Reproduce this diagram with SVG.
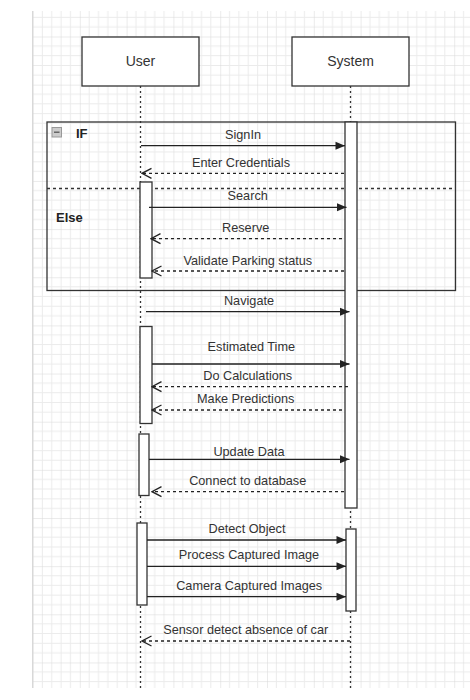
<svg xmlns="http://www.w3.org/2000/svg" width="470" height="700" viewBox="0 0 470 700">
<style>
.box{fill:#fff;stroke:#333;stroke-width:1.3}
.bar{fill:#fff;stroke:#333;stroke-width:1.3}
.life{stroke:#333;stroke-width:1.3;stroke-dasharray:2 3;fill:none}
.msg{stroke:#222;stroke-width:1.3;fill:none}
.ret{stroke:#222;stroke-width:1.3;fill:none;stroke-dasharray:3 3}
.lbl{font-family:"Liberation Sans",Arial,sans-serif;font-size:12.7px;fill:#333;text-anchor:middle}
.name{font-family:"Liberation Sans",Arial,sans-serif;font-size:14px;fill:#333;text-anchor:middle}
.kw{font-family:"Liberation Sans",Arial,sans-serif;font-size:13px;font-weight:bold;fill:#222}
</style>
<defs>
<pattern id="grid" patternUnits="userSpaceOnUse" x="33" y="36.5" width="46.8" height="48.15">
<path d="M9.36 0V48.15M18.72 0V48.15M28.08 0V48.15M37.44 0V48.15M0 9.63H46.8M0 19.26H46.8M0 28.89H46.8M0 38.52H46.8" stroke="#ebebeb" stroke-width="1" fill="none"/>
<path d="M0 0V48.15M0 0H46.8" stroke="#d8d8d8" stroke-width="1" fill="none"/>
</pattern>
<marker id="fill" markerWidth="12" markerHeight="12" refX="10" refY="6" orient="auto" markerUnits="userSpaceOnUse">
<path d="M0.5 2L10 6L0.5 10Z" fill="#222"/>
</marker>
<marker id="open" markerWidth="12" markerHeight="12" refX="10.5" refY="6" orient="auto" markerUnits="userSpaceOnUse">
<path d="M1 1L10.5 6L1 11" fill="none" stroke="#222" stroke-width="1.3"/>
</marker>
</defs>
<rect x="0" y="0" width="470" height="700" fill="#fff"/>
<rect x="32.5" y="11" width="437.5" height="677" fill="url(#grid)"/>
<line x1="32.5" y1="11" x2="32.5" y2="688" stroke="#d8d8d8"/>

<g id="user">
<rect class="box" x="82" y="37" width="117" height="49"/>
<text class="name" x="140.5" y="66">User</text>
<line class="life" x1="140.5" y1="86" x2="140.5" y2="688"/>
</g>
<g id="system">
<rect class="box" x="292" y="37" width="117" height="49"/>
<text class="name" x="350.5" y="66">System</text>
<line class="life" x1="350.5" y1="86" x2="350.5" y2="688"/>
</g>

<g id="frame-if">
<rect x="47" y="122" width="408.5" height="168.5" fill="none" stroke="#333" stroke-width="1.3"/>
<line x1="47" y1="188.5" x2="455.5" y2="188.5" stroke="#333" stroke-width="1.3" stroke-dasharray="3 3"/>
<rect x="52" y="127.5" width="9.5" height="9.5" fill="#ccc" stroke="#999" stroke-width="1"/>
<line x1="54" y1="132.2" x2="59.5" y2="132.2" stroke="#555" stroke-width="1.3"/>
<text class="kw" x="76" y="138">IF</text>
<text class="kw" x="56" y="222">Else</text>
</g>

<g id="activations">
<rect class="bar" x="345" y="122" width="12" height="386"/>
<rect class="bar" x="140" y="182" width="12" height="96"/>
<rect class="bar" x="140" y="326.5" width="12" height="97"/>
<rect class="bar" x="139" y="434" width="10" height="61.5"/>
<rect class="bar" x="137" y="523" width="10" height="82"/>
<rect class="bar" x="346" y="529" width="10" height="82"/>
</g>

<g id="connectors">
<line class="msg" x1="141" y1="145.7" x2="345" y2="145.7" marker-end="url(#fill)"/>
<line class="ret" x1="344" y1="173.3" x2="142" y2="173.3" marker-end="url(#open)"/>
<line class="msg" x1="149" y1="207.3" x2="346.5" y2="207.3" marker-end="url(#fill)"/>
<line class="ret" x1="342" y1="238.7" x2="151" y2="238.7" marker-end="url(#open)"/>
<line class="ret" x1="344" y1="271" x2="152" y2="271" marker-end="url(#open)"/>
<line class="msg" x1="146" y1="311.7" x2="349.5" y2="311.7" marker-end="url(#fill)"/>
<line class="msg" x1="152" y1="364" x2="349.5" y2="364" marker-end="url(#fill)"/>
<line class="ret" x1="348" y1="386.7" x2="152" y2="386.7" marker-end="url(#open)"/>
<line class="ret" x1="342" y1="410" x2="152" y2="410" marker-end="url(#open)"/>
<line class="msg" x1="149" y1="459.3" x2="349.5" y2="459.3" marker-end="url(#fill)"/>
<line class="ret" x1="344" y1="491.7" x2="152" y2="491.7" marker-end="url(#open)"/>
<line class="msg" x1="147" y1="540" x2="346" y2="540" marker-end="url(#fill)"/>
<line class="msg" x1="147" y1="566.3" x2="346" y2="566.3" marker-end="url(#fill)"/>
<line class="msg" x1="147" y1="596.7" x2="346" y2="596.7" marker-end="url(#fill)"/>
<line class="ret" x1="350" y1="641" x2="142" y2="641" marker-end="url(#open)"/>
</g>

<g id="labels">
<text class="lbl" x="243" y="139">SignIn</text>
<text class="lbl" x="241" y="166.5">Enter Credentials</text>
<text class="lbl" x="247.7" y="200">Search</text>
<text class="lbl" x="245.7" y="231.5">Reserve</text>
<text class="lbl" x="247.8" y="264.5">Validate Parking status</text>
<text class="lbl" x="249" y="305">Navigate</text>
<text class="lbl" x="251.3" y="351">Estimated Time</text>
<text class="lbl" x="247.8" y="380">Do Calculations</text>
<text class="lbl" x="245.7" y="402.5">Make Predictions</text>
<text class="lbl" x="249" y="455.5">Update Data</text>
<text class="lbl" x="247.7" y="485">Connect to database</text>
<text class="lbl" x="247" y="533">Detect Object</text>
<text class="lbl" x="249" y="559">Process Captured Image</text>
<text class="lbl" x="249.2" y="589.5">Camera Captured Images</text>
<text class="lbl" x="245.7" y="634">Sensor detect absence of car</text>
</g>
</svg>
